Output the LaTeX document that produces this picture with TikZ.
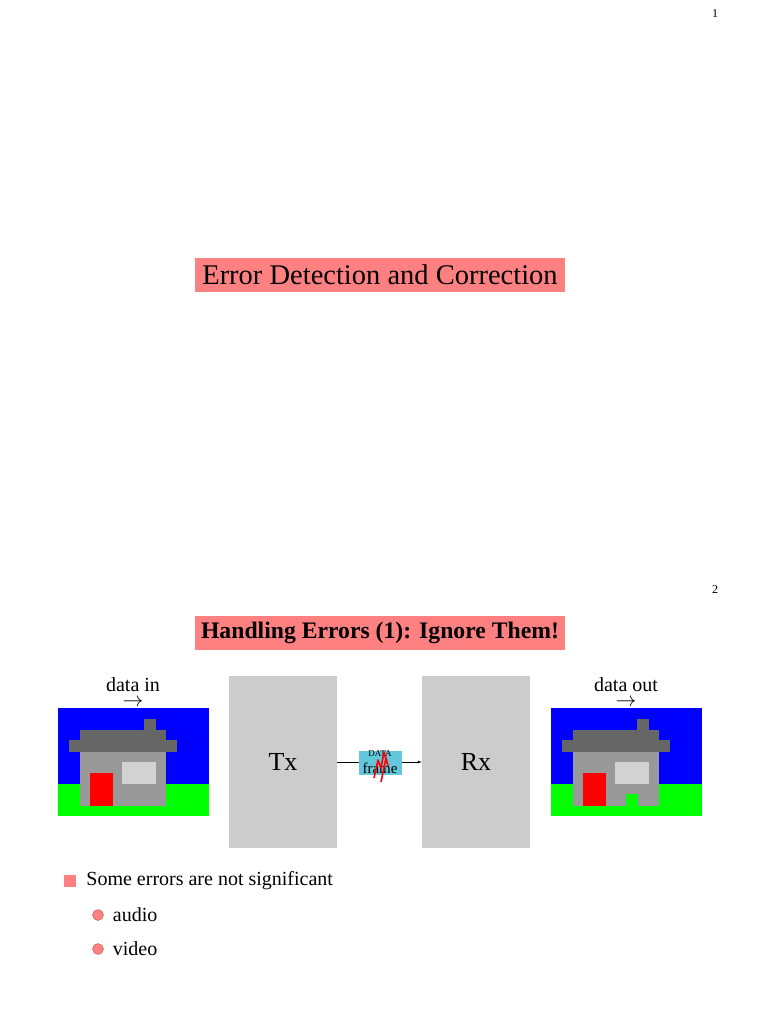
\documentclass[tikz,border=0pt]{standalone}
\usepackage{fontspec}
\setmainfont{Liberation Serif}
\usetikzlibrary{positioning}
\definecolor{salmon}{RGB}{255,128,128}
\definecolor{framecyan}{RGB}{100,200,220}
\definecolor{boxgray}{RGB}{204,204,204}
\definecolor{roofgray}{RGB}{102,102,102}
\definecolor{wallgray}{RGB}{153,153,153}
\definecolor{wingray}{RGB}{210,210,210}
\newcommand{\house}[2]{%
  \begin{scope}[shift={(#1,0)}]
    \fill[blue] (58,708) rectangle (209,784);
    \fill[green] (58,784) rectangle (209,816);
    \fill[roofgray] (144,719) rectangle (156,730);
    \fill[roofgray] (80,730) rectangle (166,740);
    \fill[roofgray] (69,740) rectangle (177,752);
    \fill[wallgray] (80,752) rectangle (166,806);
    \fill[red] (90,773) rectangle (113,806);
    \fill[wingray] (122,762) rectangle (156,784);
    #2
  \end{scope}}
\begin{document}
\begin{tikzpicture}[x=1pt,y=-1pt]
    \tikzstyle{every node} = [font=\fontsize{20}{22}\selectfont, inner sep=0pt]
    \tikzstyle{titlebox} = [fill=salmon, minimum width=370pt, minimum height=34pt]
    \tikzstyle{unit} = [fill=boxgray, minimum width=108pt, minimum height=172pt, font=\fontsize{26}{28}\selectfont]
    \tikzstyle{pagenum} = [font=\fontsize{12}{14}\selectfont]
    \useasboundingbox (0,0) rectangle (768,1024);
    % slide 1
    \node[pagenum] (num1) at (715,14) {1};
    \node[titlebox, font=\fontsize{28.5}{30}\selectfont] (title1) at (380,275) {Error Detection and Correction};

    % slide 2
    \node[pagenum] (num2) at (715,590) {2};
    \node[titlebox, font=\fontsize{23.7}{26}\selectfont\bfseries] (title2) at (380,633) {Handling Errors (1): Ignore Them!};

    % pictures
    \house{0}{}
    \house{493}{\fill[green] (133,794) rectangle (145,806);}
    \node (dataIn) at (133,685) {data in};
    \node (inArrow) at (133,703) {$\rightarrow$};
    \node (dataOut) at (626,685) {data out};
    \node (outArrow) at (626,703) {$\rightarrow$};

    % units
    \node[unit] (tx) at (283,762) {Tx};
    \node[unit] (rx) at (476,762) {Rx};
    \draw[-latex] (tx.east)--(rx.east-|rx.west);
    \node[fill=framecyan, minimum width=43pt, minimum height=24pt] (frame) at (380,763) {};
    \node[font=\fontsize{9}{10}\selectfont] (dataLbl) at (380,754) {DATA};
    \node[font=\fontsize{15}{16}\selectfont] (frameLbl) at (380,768) {frame};
    \draw[red, line width=1.6pt, line join=round] (374,778)--(378,760)--(381,768)--(384,752)--(388,766)--(386,758)--(381,782);

    % bullets
    \node[fill=salmon, minimum size=12pt] (sq1) at (70,881) {};
    \node[right=10pt of sq1, anchor=west] (b1) {Some errors are not significant};
    \node[circle, fill=salmon, draw=salmon!70!black, minimum size=11pt] (c1) at (98,915) {};
    \node[right=9pt of c1, anchor=west] (b2) {audio};
    \node[circle, fill=salmon, draw=salmon!70!black, minimum size=11pt] (c2) at (98,949) {};
    \node[right=9pt of c2, anchor=west] (b3) {video};
\end{tikzpicture}
\end{document}
